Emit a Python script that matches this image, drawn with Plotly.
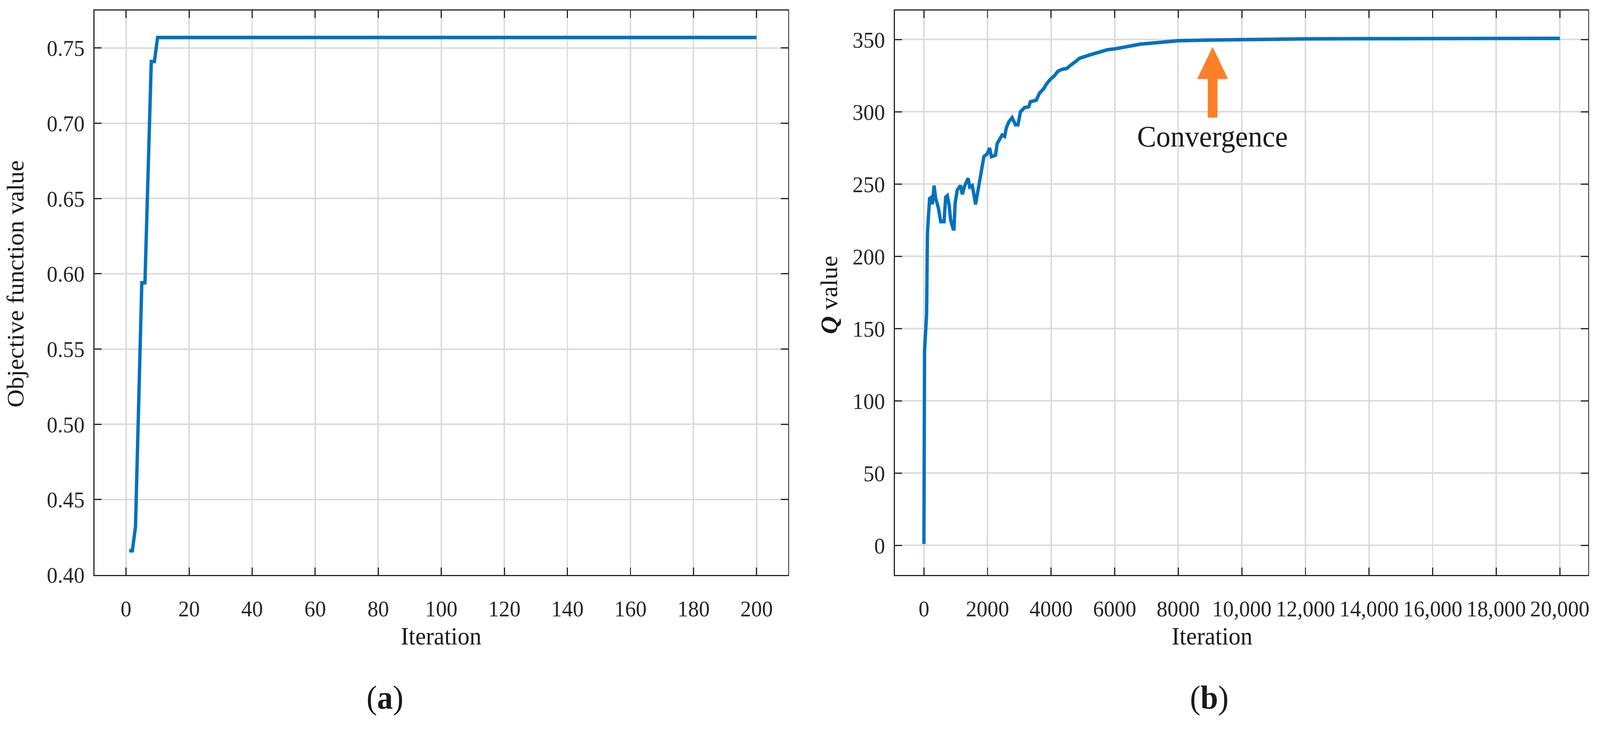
import plotly.graph_objects as go

# ---------------- data ----------------
# (a) objective function value vs iteration
iter_a = [1, 2, 3, 4, 5, 6, 7, 8, 9, 10, 200]
obj_a = [0.416, 0.416, 0.432, 0.513, 0.594, 0.594, 0.667, 0.741, 0.741, 0.757, 0.757]

# (b) Q value vs iteration
iter_b = [0, 20, 60, 84, 110, 178, 240, 267, 319, 371, 424, 460, 528, 633, 685, 737,
          790, 842, 920, 946, 983, 1050, 1155, 1207, 1286, 1390, 1442, 1521, 1625,
          1677, 1756, 1834, 1886, 1991, 2069, 2122, 2252, 2304, 2383, 2461, 2540,
          2592, 2670, 2775, 2879, 2958, 3036, 3166, 3297, 3349, 3532, 3637, 3768,
          3846, 3976, 4107, 4211, 4342, 4499, 4577, 4786, 4890, 5204, 5517, 5778,
          5988, 6249, 6562, 6823, 7189, 7555, 7806, 8000, 9000, 10000, 12000,
          14000, 16000, 18000, 20000]
q_b = [1, 135, 150, 160, 216, 240, 241, 236, 249, 240, 236, 233, 224, 224, 241, 242,
       236, 225, 219, 219, 237, 246, 249, 243, 249, 254, 248, 249, 236,
       243, 254, 262, 269, 271, 275, 269, 270, 278, 281, 284, 283,
       289, 293, 296, 291, 291, 300, 303, 303.5, 307, 308, 313, 316,
       319, 322.5, 325, 328, 329.4, 330, 331.6, 335, 337, 339.3, 341.5, 343,
       343.5, 344.6, 345.8, 346.9, 347.6, 348.4, 349.0, 349.2, 349.7, 350.1, 350.5,
       350.6, 350.7, 350.8, 350.8]

ticks_a_x = [0, 20, 40, 60, 80, 100, 120, 140, 160, 180, 200]
ticks_a_y = [0.40, 0.45, 0.50, 0.55, 0.60, 0.65, 0.70, 0.75]
ticks_b_x = [0, 2000, 4000, 6000, 8000, 10000, 12000, 14000, 16000, 18000, 20000]
ticks_b_xtext = ["0", "2000", "4000", "6000", "8000", "10,000", "12,000", "14,000",
                 "16,000", "18,000", "20,000"]
ticks_b_y = [0, 50, 100, 150, 200, 250, 300, 350]

# annotation arrow (data coords of panel b)
arrow_x = 9080
arrow_tip, arrow_head_base, arrow_bottom = 345, 322.7, 296
arrow_head_half, arrow_shaft_half = 486, 152

# ---------------- styling ----------------
W, H = 4296, 1874
FONT = "Liberation Serif"
AX = "#262626"
GRID = "#DBDBDB"
BLUE = "#0072BD"
ORANGE = "#FF7F27"

def px(x):
    return x / W

def py(y):
    return 1 - y / H

fig = go.Figure()
fig.add_trace(go.Scatter(x=iter_a, y=obj_a, mode="lines",
                         line=dict(color=BLUE, width=9), xaxis="x", yaxis="y",
                         showlegend=False))
fig.add_trace(go.Scatter(x=iter_b, y=q_b, mode="lines",
                         line=dict(color=BLUE, width=9), xaxis="x2", yaxis="y2",
                         showlegend=False))

common = dict(showline=True, linecolor=AX, linewidth=3, mirror="ticks",
              ticks="inside", ticklen=19, tickwidth=3, tickcolor=AX,
              showgrid=True, gridcolor=GRID, gridwidth=3.5, zeroline=False,
              tickfont=dict(family=FONT, size=58, color=AX))

fig.update_layout(
    width=W, height=H, margin=dict(l=0, r=0, t=0, b=0),
    paper_bgcolor="white", plot_bgcolor="white",
    xaxis=dict(domain=[px(254), px(2118)], range=[-10, 210], tickvals=ticks_a_x,
               anchor="y", ticklabelstandoff=34, **common),
    yaxis=dict(domain=[py(1498), py(27)], range=[0.40, 0.775], tickvals=ticks_a_y,
               tickformat=".2f", anchor="x", ticklabelstandoff=12, **common),
    xaxis2=dict(domain=[px(2405), px(4268)], range=[-913, 20889], tickvals=ticks_b_x,
                ticktext=ticks_b_xtext, anchor="y2", ticklabelstandoff=34, **common),
    yaxis2=dict(domain=[py(1498), py(27)], range=[-20.3, 370.2], tickvals=ticks_b_y,
                anchor="x2", ticklabelstandoff=12, **common),
)

# arrow shape
path = (f"M {arrow_x - arrow_shaft_half},{arrow_bottom} "
        f"L {arrow_x - arrow_shaft_half},{arrow_head_base} "
        f"L {arrow_x - arrow_head_half},{arrow_head_base} "
        f"L {arrow_x},{arrow_tip} "
        f"L {arrow_x + arrow_head_half},{arrow_head_base} "
        f"L {arrow_x + arrow_shaft_half},{arrow_head_base} "
        f"L {arrow_x + arrow_shaft_half},{arrow_bottom} Z")
fig.add_shape(type="path", path=path, xref="x2", yref="y2",
              fillcolor=ORANGE, line=dict(width=0))

tf = dict(family=FONT, color="#1a1a1a")
annos = [
    dict(text="Convergence", x=arrow_x, y=283, xref="x2", yref="y2",
         font=dict(size=77, **tf)),
    dict(text="Iteration", x=px(1186), y=py(1658), xref="paper", yref="paper",
         font=dict(size=64, **tf)),
    dict(text="Iteration", x=px(3258), y=py(1658), xref="paper", yref="paper",
         font=dict(size=64, **tf)),
    dict(text="Objective function value", x=px(42), y=py(739), xref="paper",
         yref="paper", textangle=-90, font=dict(size=64, **tf)),
    dict(text="<b><i>Q</i></b> value", x=px(2228), y=py(768), xref="paper",
         yref="paper", textangle=-90, font=dict(size=64, **tf)),
    dict(text="(<b>a</b>)", x=px(1034), y=py(1818), xref="paper", yref="paper",
         font=dict(size=85, **tf)),
    dict(text="(<b>b</b>)", x=px(3250), y=py(1818), xref="paper", yref="paper",
         font=dict(size=85, **tf)),
]
for a in annos:
    fig.add_annotation(showarrow=False, xanchor="center", yanchor="middle", **a)

# stretch the fixed-size figure so it exactly fills the browser viewport
fit_js = """
(function(){
  var gd = document.getElementById('{plot_id}');
  document.documentElement.style.margin = '0';
  document.documentElement.style.overflow = 'hidden';
  document.body.style.margin = '0';
  document.body.style.overflow = 'hidden';
  var sx = window.innerWidth / 4296, sy = window.innerHeight / 1874;
  if (sx > 0 && sy > 0 && (Math.abs(sx - 1) > 0.001 || Math.abs(sy - 1) > 0.001)) {
    gd.style.transformOrigin = '0 0';
    gd.style.transform = 'scale(' + sx + ',' + sy + ')';
  }
})();
"""

fig.write_html("out.html", post_script=fit_js, config={"displayModeBar": False})
